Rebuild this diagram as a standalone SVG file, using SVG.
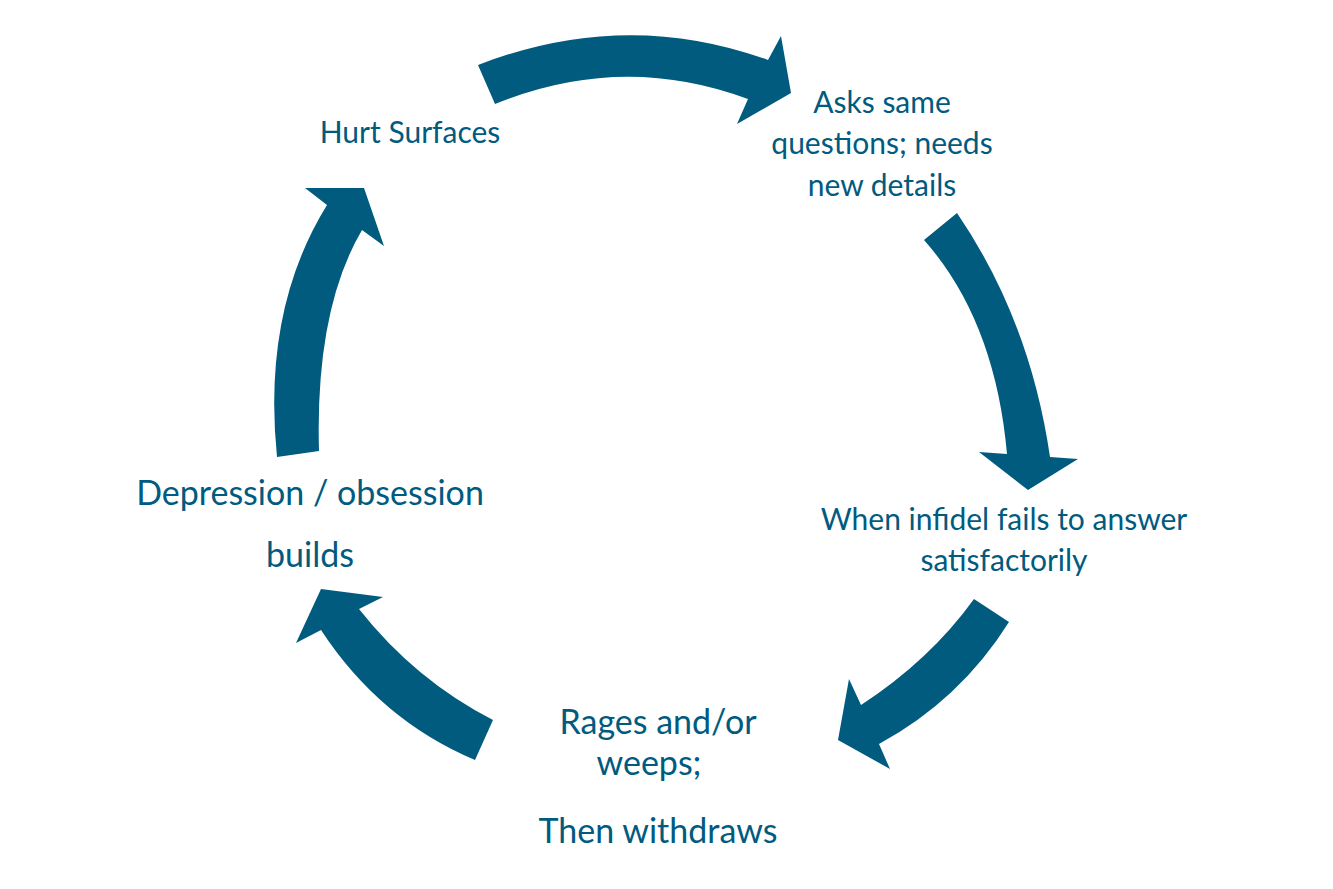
<svg xmlns="http://www.w3.org/2000/svg" width="1333" height="889" viewBox="0 0 1333 889">
<style>
.a{fill:#005B7F}
text{fill:#005B7F;font-family:Lato,"Open Sans","Liberation Sans",sans-serif;text-anchor:middle}
.s{font-size:30px}
.l{font-size:34px}
</style>
<rect width="1333" height="889" fill="#fff"/>
<g id="connectors">
<path class="a" d="M478,65 Q625,8 768,60 L781,36 L791,93 L737,124 L748,99 Q622,52 495,104 Z"/>
<path class="a" d="M957,213 Q1030,320 1050,457 L1078,459 L1028,490 L979,452 L1007,454 Q995,320 924,240 Z"/>
<path class="a" d="M1009,622 Q960,700 879,744 L890,769 L838,740 L849,679 L861,705 Q930,660 974,599 Z"/>
<path class="a" d="M475,760 Q380,720 321,630 L296,643 L321,589 L383,597 L359,609 Q415,680 493,720 Z"/>
<path class="a" d="M277,457 Q262,310 327,205 L305,188 L364,188 L384,246 L362,230 Q315,310 319,451 Z"/>
</g>
<g id="n1"><text class="s" x="410" y="143">Hurt Surfaces</text></g>
<g id="n2"><text class="s" x="882" y="113">Asks same</text><text class="s" x="882" y="154">questions; needs</text><text class="s" x="882" y="196">new details</text></g>
<g id="n3"><text class="s" x="1004" y="530">When infidel fails to answer</text><text class="s" x="1004" y="571">satisfactorily</text></g>
<g id="n4"><text class="l" x="658" y="734">Rages and/or</text><text class="l" x="649" y="775">weeps;</text><text class="l" x="658" y="843">Then withdraws</text></g>
<g id="n5"><text class="l" x="310" y="505">Depression / obsession</text><text class="l" x="310" y="567">builds</text></g>
</svg>
